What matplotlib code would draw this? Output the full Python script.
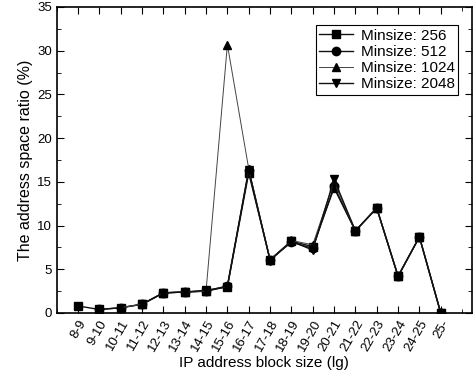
import numpy as np
import matplotlib.pyplot as plt
from matplotlib.ticker import MultipleLocator, FixedLocator

plt.rcParams["font.family"] = ["Liberation Sans", "DejaVu Sans"]

categories = ["8-9", "9-10", "10-11", "11-12", "12-13", "13-14", "14-15", "15-16",
              "16-17", "17-18", "18-19", "19-20", "20-21", "21-22", "22-23",
              "23-24", "24-25", "25-"]

ratio_256 = [0.8, 0.4, 0.6, 1.0, 2.3, 2.4, 2.5, 3.0, 16.0, 6.1, 8.2, 7.6, 14.3,
             9.4, 12.0, 4.2, 8.7, 0.0]
ratio_512 = [0.4, 0.6, 1.0, 2.3, 2.4, 2.5, 3.1, 16.3, 6.1, 8.1, 7.4, 14.5,
             9.4, 12.0, 4.2, 8.7, 0.0]
ratio_1024 = [0.6, 1.0, 2.3, 2.4, 2.5, 30.7, 16.5, 6.1, 8.3, 7.8, 15.0,
              9.4, 12.0, 4.2, 8.7, 0.0]
ratio_2048 = [1.0, 2.3, 2.4, 2.6, 3.0, 16.4, 6.0, 8.2, 7.2, 15.3,
              9.4, 12.0, 4.2, 8.7, 0.0]

series = [
    ("Minsize: 256", ratio_256, "s", "#111111", 1.0),
    ("Minsize: 512", ratio_512, "o", "#111111", 1.0),
    ("Minsize: 1024", ratio_1024, "^", "#444444", 0.7),
    ("Minsize: 2048", ratio_2048, "v", "#111111", 1.0),
]

fig = plt.figure(figsize=(4.74, 3.76), dpi=100)
ax = fig.add_axes([0.1196, 0.1676, 0.8755, 0.8138])

n = len(categories)
for label, vals, marker, color, lw in series:
    x = np.arange(n - len(vals), n)
    ax.plot(x, vals, marker=marker, color=color, lw=lw, ms=6,
            mfc="black", mec="black", label=label)

ax.set_xlim(-1, 18.45)
ax.set_ylim(0, 35)
ax.set_xticks(np.arange(n))
ax.set_xticklabels(categories, rotation=60, ha="right", rotation_mode="anchor")
ax.xaxis.set_minor_locator(FixedLocator([-1, 18]))
ax.yaxis.set_major_locator(MultipleLocator(5))
ax.yaxis.set_minor_locator(MultipleLocator(2.5))
ax.tick_params(which="both", direction="in", top=True, right=True, labelsize=9.5)
ax.tick_params(which="major", length=5)
ax.tick_params(which="minor", length=3)
for s in ax.spines.values():
    s.set_linewidth(1.2)

ax.set_xlabel("IP address block size (lg)", fontsize=11, labelpad=2)
ax.set_ylabel("The address space ratio (%)", fontsize=11.5, labelpad=3)

leg = ax.legend(loc="upper right", bbox_to_anchor=(0.968, 0.942), fontsize=11,
                fancybox=False, edgecolor="black", framealpha=1,
                handlelength=2.2, borderpad=0.25, labelspacing=0.15,
                handletextpad=0.5, borderaxespad=0)
leg.get_frame().set_linewidth(0.8)

fig.savefig("out.png", dpi=100)
